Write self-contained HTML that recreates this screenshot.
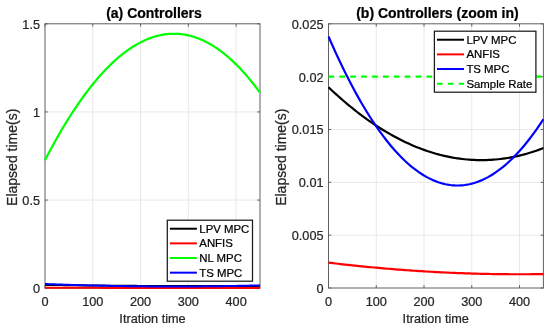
<!DOCTYPE html>
<html><head><meta charset="utf-8"><title>Controllers elapsed time</title>
<style>html,body{margin:0;padding:0;background:#fff}svg{display:block}text{font-family:"Liberation Sans", sans-serif;stroke-width:0.24px;paint-order:stroke}</style>
</head><body>
<svg width="550" height="331" viewBox="0 0 550 331">
<rect width="550" height="331" fill="#fff"/>
<rect x="45" y="23.8" width="215" height="264.4" fill="#fff"/>
<line x1="92.78" y1="23.8" x2="92.78" y2="288.2" stroke="#e8e8e8" stroke-width="1"/>
<line x1="140.56" y1="23.8" x2="140.56" y2="288.2" stroke="#e8e8e8" stroke-width="1"/>
<line x1="188.33" y1="23.8" x2="188.33" y2="288.2" stroke="#e8e8e8" stroke-width="1"/>
<line x1="236.11" y1="23.8" x2="236.11" y2="288.2" stroke="#e8e8e8" stroke-width="1"/>
<line x1="45" y1="200.07" x2="260" y2="200.07" stroke="#e8e8e8" stroke-width="1"/>
<line x1="45" y1="111.93" x2="260" y2="111.93" stroke="#e8e8e8" stroke-width="1"/>
<rect x="45" y="23.8" width="215" height="264.4" fill="none" stroke="#606060" stroke-width="1"/>
<path d="M45.00 288.2v-2.8M45.00 23.8v2.8" stroke="#606060" stroke-width="1" fill="none"/>
<path d="M92.78 288.2v-2.8M92.78 23.8v2.8" stroke="#606060" stroke-width="1" fill="none"/>
<path d="M140.56 288.2v-2.8M140.56 23.8v2.8" stroke="#606060" stroke-width="1" fill="none"/>
<path d="M188.33 288.2v-2.8M188.33 23.8v2.8" stroke="#606060" stroke-width="1" fill="none"/>
<path d="M236.11 288.2v-2.8M236.11 23.8v2.8" stroke="#606060" stroke-width="1" fill="none"/>
<path d="M45 288.20h2.8M260 288.20h-2.8" stroke="#606060" stroke-width="1" fill="none"/>
<path d="M45 200.07h2.8M260 200.07h-2.8" stroke="#606060" stroke-width="1" fill="none"/>
<path d="M45 111.93h2.8M260 111.93h-2.8" stroke="#606060" stroke-width="1" fill="none"/>
<path d="M45 23.80h2.8M260 23.80h-2.8" stroke="#606060" stroke-width="1" fill="none"/>
<clipPath id="c45"><rect x="44" y="22.8" width="217" height="266.4"/></clipPath>
<g clip-path="url(#c45)" fill="none" stroke-width="2.2" stroke-linejoin="round">
<polyline points="45.00,284.85 47.39,284.89 49.78,284.93 52.17,284.96 54.56,285.00 56.94,285.03 59.33,285.07 61.72,285.10 64.11,285.14 66.50,285.17 68.89,285.20 71.28,285.23 73.67,285.26 76.06,285.29 78.44,285.32 80.83,285.35 83.22,285.38 85.61,285.41 88.00,285.44 90.39,285.47 92.78,285.49 95.17,285.52 97.56,285.54 99.94,285.57 102.33,285.59 104.72,285.62 107.11,285.64 109.50,285.66 111.89,285.68 114.28,285.70 116.67,285.72 119.06,285.74 121.44,285.76 123.83,285.78 126.22,285.80 128.61,285.82 131.00,285.83 133.39,285.85 135.78,285.87 138.17,285.88 140.56,285.90 142.94,285.91 145.33,285.92 147.72,285.94 150.11,285.95 152.50,285.96 154.89,285.97 157.28,285.98 159.67,285.99 162.06,286.00 164.44,286.01 166.83,286.02 169.22,286.02 171.61,286.03 174.00,286.04 176.39,286.04 178.78,286.05 181.17,286.05 183.56,286.06 185.94,286.06 188.33,286.06 190.72,286.06 193.11,286.07 195.50,286.07 197.89,286.07 200.28,286.07 202.67,286.07 205.06,286.06 207.44,286.06 209.83,286.06 212.22,286.06 214.61,286.05 217.00,286.05 219.39,286.04 221.78,286.04 224.17,286.03 226.56,286.02 228.94,286.02 231.33,286.01 233.72,286.00 236.11,285.99 238.50,285.98 240.89,285.97 243.28,285.96 245.67,285.95 248.06,285.94 250.44,285.92 252.83,285.91 255.22,285.90 257.61,285.88 260.00,285.87" stroke="#000" stroke-width="2"/>
<polyline points="45.00,287.78 47.39,287.78 49.78,287.79 52.17,287.79 54.56,287.80 56.94,287.80 59.33,287.80 61.72,287.81 64.11,287.81 66.50,287.82 68.89,287.82 71.28,287.83 73.67,287.83 76.06,287.83 78.44,287.84 80.83,287.84 83.22,287.85 85.61,287.85 88.00,287.85 90.39,287.86 92.78,287.86 95.17,287.87 97.56,287.87 99.94,287.87 102.33,287.88 104.72,287.88 107.11,287.88 109.50,287.89 111.89,287.89 114.28,287.89 116.67,287.90 119.06,287.90 121.44,287.90 123.83,287.90 126.22,287.91 128.61,287.91 131.00,287.91 133.39,287.91 135.78,287.92 138.17,287.92 140.56,287.92 142.94,287.92 145.33,287.93 147.72,287.93 150.11,287.93 152.50,287.93 154.89,287.94 157.28,287.94 159.67,287.94 162.06,287.94 164.44,287.94 166.83,287.95 169.22,287.95 171.61,287.95 174.00,287.95 176.39,287.95 178.78,287.95 181.17,287.95 183.56,287.96 185.94,287.96 188.33,287.96 190.72,287.96 193.11,287.96 195.50,287.96 197.89,287.96 200.28,287.96 202.67,287.96 205.06,287.97 207.44,287.97 209.83,287.97 212.22,287.97 214.61,287.97 217.00,287.97 219.39,287.97 221.78,287.97 224.17,287.97 226.56,287.97 228.94,287.97 231.33,287.97 233.72,287.97 236.11,287.97 238.50,287.97 240.89,287.97 243.28,287.97 245.67,287.97 248.06,287.97 250.44,287.97 252.83,287.97 255.22,287.97 257.61,287.97 260.00,287.97" stroke="#f00" stroke-width="2"/>
<polyline points="45.00,160.16 47.39,155.58 49.78,151.07 52.17,146.65 54.56,142.31 56.94,138.06 59.33,133.89 61.72,129.80 64.11,125.79 66.50,121.87 68.89,118.03 71.28,114.28 73.67,110.61 76.06,107.02 78.44,103.52 80.83,100.10 83.22,96.76 85.61,93.51 88.00,90.35 90.39,87.27 92.78,84.27 95.17,81.36 97.56,78.53 99.94,75.79 102.33,73.14 104.72,70.57 107.11,68.08 109.50,65.69 111.89,63.37 114.28,61.15 116.67,59.01 119.06,56.95 121.44,54.98 123.83,53.10 126.22,51.31 128.61,49.60 131.00,47.98 133.39,46.44 135.78,44.99 138.17,43.63 140.56,42.36 142.94,41.17 145.33,40.07 147.72,39.06 150.11,38.14 152.50,37.30 154.89,36.56 157.28,35.90 159.67,35.33 162.06,34.85 164.44,34.45 166.83,34.15 169.22,33.93 171.61,33.80 174.00,33.76 176.39,33.81 178.78,33.95 181.17,34.18 183.56,34.50 185.94,34.91 188.33,35.41 190.72,36.00 193.11,36.67 195.50,37.44 197.89,38.30 200.28,39.25 202.67,40.29 205.06,41.42 207.44,42.64 209.83,43.95 212.22,45.35 214.61,46.84 217.00,48.43 219.39,50.10 221.78,51.87 224.17,53.73 226.56,55.68 228.94,57.72 231.33,59.85 233.72,62.08 236.11,64.40 238.50,66.81 240.89,69.31 243.28,71.91 245.67,74.60 248.06,77.38 250.44,80.25 252.83,83.22 255.22,86.28 257.61,89.43 260.00,92.68" stroke="#0f0"/>
<polyline points="45.00,284.00 47.39,284.10 49.78,284.19 52.17,284.27 54.56,284.36 56.94,284.44 59.33,284.53 61.72,284.61 64.11,284.69 66.50,284.76 68.89,284.84 71.28,284.91 73.67,284.99 76.06,285.06 78.44,285.13 80.83,285.19 83.22,285.26 85.61,285.32 88.00,285.39 90.39,285.45 92.78,285.50 95.17,285.56 97.56,285.62 99.94,285.67 102.33,285.72 104.72,285.77 107.11,285.82 109.50,285.87 111.89,285.91 114.28,285.96 116.67,286.00 119.06,286.04 121.44,286.08 123.83,286.11 126.22,286.15 128.61,286.18 131.00,286.21 133.39,286.24 135.78,286.27 138.17,286.30 140.56,286.32 142.94,286.35 145.33,286.37 147.72,286.39 150.11,286.40 152.50,286.42 154.89,286.44 157.28,286.45 159.67,286.46 162.06,286.47 164.44,286.48 166.83,286.48 169.22,286.49 171.61,286.49 174.00,286.49 176.39,286.49 178.78,286.49 181.17,286.48 183.56,286.48 185.94,286.47 188.33,286.46 190.72,286.45 193.11,286.44 195.50,286.42 197.89,286.40 200.28,286.39 202.67,286.37 205.06,286.35 207.44,286.32 209.83,286.30 212.22,286.27 214.61,286.24 217.00,286.21 219.39,286.18 221.78,286.15 224.17,286.11 226.56,286.08 228.94,286.04 231.33,286.00 233.72,285.96 236.11,285.91 238.50,285.87 240.89,285.82 243.28,285.77 245.67,285.72 248.06,285.67 250.44,285.62 252.83,285.56 255.22,285.50 257.61,285.45 260.00,285.39" stroke="#00f" stroke-width="2"/>
</g>
<text x="45.00" y="306.1" font-size="12.7" text-anchor="middle" fill="#262626" stroke="#262626">0</text>
<text x="92.78" y="306.1" font-size="12.7" text-anchor="middle" fill="#262626" stroke="#262626">100</text>
<text x="140.56" y="306.1" font-size="12.7" text-anchor="middle" fill="#262626" stroke="#262626">200</text>
<text x="188.33" y="306.1" font-size="12.7" text-anchor="middle" fill="#262626" stroke="#262626">300</text>
<text x="236.11" y="306.1" font-size="12.7" text-anchor="middle" fill="#262626" stroke="#262626">400</text>
<text x="40.0" y="293.20" font-size="12.7" text-anchor="end" fill="#262626" stroke="#262626">0</text>
<text x="40.0" y="205.02" font-size="12.7" text-anchor="end" fill="#262626" stroke="#262626">0.5</text>
<text x="40.0" y="116.83" font-size="12.7" text-anchor="end" fill="#262626" stroke="#262626">1</text>
<text x="40.0" y="28.65" font-size="12.7" text-anchor="end" fill="#262626" stroke="#262626">1.5</text>
<text x="152.50" y="322.7" font-size="12.7" text-anchor="middle" fill="#262626" stroke="#262626">Itration time</text>
<text transform="translate(16.60,157.30) rotate(-90)" font-size="14" text-anchor="middle" fill="#262626" stroke="#262626">Elapsed time(s)</text>
<text x="154.00" y="17.9" font-size="14" font-weight="bold" text-anchor="middle" fill="#000" stroke="#000" stroke-width="0.12">(a) Controllers</text>
<rect x="167.3" y="220.2" width="85.19999999999999" height="61.0" fill="#fff" stroke="#1c1c1c" stroke-width="1.25"/>
<line x1="169.9" y1="228.72" x2="196.9" y2="228.72" stroke="#000" stroke-width="2"/>
<text x="199.3" y="232.82" font-size="11.4" fill="#000" stroke="#000">LPV MPC</text>
<line x1="169.9" y1="243.37" x2="196.9" y2="243.37" stroke="#f00" stroke-width="2"/>
<text x="199.3" y="247.47" font-size="11.4" fill="#000" stroke="#000">ANFIS</text>
<line x1="169.9" y1="258.02" x2="196.9" y2="258.02" stroke="#0f0" stroke-width="2"/>
<text x="199.3" y="262.12" font-size="11.4" fill="#000" stroke="#000">NL MPC</text>
<line x1="169.9" y1="272.67" x2="196.9" y2="272.67" stroke="#00f" stroke-width="2"/>
<text x="199.3" y="276.77" font-size="11.4" fill="#000" stroke="#000">TS MPC</text>
<rect x="328.5" y="23.8" width="214.89999999999998" height="264.2" fill="#fff"/>
<line x1="376.26" y1="23.8" x2="376.26" y2="288" stroke="#e8e8e8" stroke-width="1"/>
<line x1="424.01" y1="23.8" x2="424.01" y2="288" stroke="#e8e8e8" stroke-width="1"/>
<line x1="471.77" y1="23.8" x2="471.77" y2="288" stroke="#e8e8e8" stroke-width="1"/>
<line x1="519.52" y1="23.8" x2="519.52" y2="288" stroke="#e8e8e8" stroke-width="1"/>
<line x1="328.5" y1="235.16" x2="543.4" y2="235.16" stroke="#e8e8e8" stroke-width="1"/>
<line x1="328.5" y1="182.32" x2="543.4" y2="182.32" stroke="#e8e8e8" stroke-width="1"/>
<line x1="328.5" y1="129.48" x2="543.4" y2="129.48" stroke="#e8e8e8" stroke-width="1"/>
<line x1="328.5" y1="76.64" x2="543.4" y2="76.64" stroke="#e8e8e8" stroke-width="1"/>
<rect x="328.5" y="23.8" width="214.89999999999998" height="264.2" fill="none" stroke="#606060" stroke-width="1"/>
<path d="M328.50 288v-2.8M328.50 23.8v2.8" stroke="#606060" stroke-width="1" fill="none"/>
<path d="M376.26 288v-2.8M376.26 23.8v2.8" stroke="#606060" stroke-width="1" fill="none"/>
<path d="M424.01 288v-2.8M424.01 23.8v2.8" stroke="#606060" stroke-width="1" fill="none"/>
<path d="M471.77 288v-2.8M471.77 23.8v2.8" stroke="#606060" stroke-width="1" fill="none"/>
<path d="M519.52 288v-2.8M519.52 23.8v2.8" stroke="#606060" stroke-width="1" fill="none"/>
<path d="M328.5 288.00h2.8M543.4 288.00h-2.8" stroke="#606060" stroke-width="1" fill="none"/>
<path d="M328.5 235.16h2.8M543.4 235.16h-2.8" stroke="#606060" stroke-width="1" fill="none"/>
<path d="M328.5 182.32h2.8M543.4 182.32h-2.8" stroke="#606060" stroke-width="1" fill="none"/>
<path d="M328.5 129.48h2.8M543.4 129.48h-2.8" stroke="#606060" stroke-width="1" fill="none"/>
<path d="M328.5 76.64h2.8M543.4 76.64h-2.8" stroke="#606060" stroke-width="1" fill="none"/>
<path d="M328.5 23.80h2.8M543.4 23.80h-2.8" stroke="#606060" stroke-width="1" fill="none"/>
<clipPath id="c328"><rect x="327.5" y="22.8" width="216.89999999999998" height="266.2"/></clipPath>
<g clip-path="url(#c328)" fill="none" stroke-width="2.2" stroke-linejoin="round">
<polyline points="328.50,87.21 330.89,89.47 333.28,91.69 335.66,93.88 338.05,96.04 340.44,98.16 342.83,100.24 345.21,102.29 347.60,104.30 349.99,106.27 352.38,108.21 354.77,110.12 357.15,111.99 359.54,113.82 361.93,115.62 364.32,117.38 366.70,119.11 369.09,120.80 371.48,122.46 373.87,124.08 376.26,125.66 378.64,127.21 381.03,128.72 383.42,130.20 385.81,131.64 388.19,133.05 390.58,134.42 392.97,135.76 395.36,137.06 397.75,138.32 400.13,139.55 402.52,140.74 404.91,141.90 407.30,143.02 409.68,144.10 412.07,145.16 414.46,146.17 416.85,147.15 419.24,148.09 421.62,149.00 424.01,149.87 426.40,150.71 428.79,151.51 431.17,152.28 433.56,153.01 435.95,153.70 438.34,154.36 440.73,154.98 443.11,155.57 445.50,156.12 447.89,156.64 450.28,157.12 452.66,157.56 455.05,157.97 457.44,158.35 459.83,158.69 462.22,158.99 464.60,159.25 466.99,159.49 469.38,159.68 471.77,159.84 474.15,159.97 476.54,160.06 478.93,160.11 481.32,160.13 483.71,160.11 486.09,160.06 488.48,159.97 490.87,159.84 493.26,159.68 495.64,159.49 498.03,159.25 500.42,158.99 502.81,158.69 505.20,158.35 507.58,157.97 509.97,157.56 512.36,157.12 514.75,156.64 517.13,156.12 519.52,155.57 521.91,154.98 524.30,154.36 526.69,153.70 529.07,153.01 531.46,152.28 533.85,151.51 536.24,150.71 538.62,149.87 541.01,149.00 543.40,148.09" stroke="#000"/>
<polyline points="328.50,262.64 330.89,262.93 333.28,263.21 335.66,263.49 338.05,263.77 340.44,264.04 342.83,264.32 345.21,264.58 347.60,264.85 349.99,265.11 352.38,265.36 354.77,265.61 357.15,265.86 359.54,266.11 361.93,266.35 364.32,266.59 366.70,266.82 369.09,267.05 371.48,267.28 373.87,267.50 376.26,267.72 378.64,267.94 381.03,268.15 383.42,268.36 385.81,268.57 388.19,268.77 390.58,268.97 392.97,269.16 395.36,269.35 397.75,269.54 400.13,269.72 402.52,269.90 404.91,270.08 407.30,270.25 409.68,270.42 412.07,270.58 414.46,270.75 416.85,270.90 419.24,271.06 421.62,271.21 424.01,271.36 426.40,271.50 428.79,271.64 431.17,271.77 433.56,271.91 435.95,272.04 438.34,272.16 440.73,272.28 443.11,272.40 445.50,272.52 447.89,272.63 450.28,272.73 452.66,272.84 455.05,272.94 457.44,273.03 459.83,273.13 462.22,273.22 464.60,273.30 466.99,273.38 469.38,273.46 471.77,273.54 474.15,273.61 476.54,273.67 478.93,273.74 481.32,273.80 483.71,273.85 486.09,273.91 488.48,273.95 490.87,274.00 493.26,274.04 495.64,274.08 498.03,274.11 500.42,274.15 502.81,274.17 505.20,274.20 507.58,274.22 509.97,274.23 512.36,274.25 514.75,274.25 517.13,274.26 519.52,274.26 521.91,274.26 524.30,274.25 526.69,274.25 529.07,274.23 531.46,274.22 533.85,274.20 536.24,274.17 538.62,274.15 541.01,274.11 543.40,274.08" stroke="#f00"/>
<polyline points="328.50,36.48 330.89,41.95 333.28,47.31 335.66,52.58 338.05,57.74 340.44,62.80 342.83,67.76 345.21,72.61 347.60,77.36 349.99,82.01 352.38,86.56 354.77,91.01 357.15,95.35 359.54,99.59 361.93,103.73 364.32,107.77 366.70,111.70 369.09,115.53 371.48,119.26 373.87,122.89 376.26,126.42 378.64,129.84 381.03,133.16 383.42,136.38 385.81,139.50 388.19,142.51 390.58,145.43 392.97,148.24 395.36,150.95 397.75,153.55 400.13,156.06 402.52,158.46 404.91,160.76 407.30,162.96 409.68,165.05 412.07,167.04 414.46,168.93 416.85,170.72 419.24,172.41 421.62,173.99 424.01,175.47 426.40,176.85 428.79,178.13 431.17,179.31 433.56,180.38 435.95,181.35 438.34,182.22 440.73,182.99 443.11,183.65 445.50,184.21 447.89,184.67 450.28,185.03 452.66,185.29 455.05,185.44 457.44,185.49 459.83,185.44 462.22,185.29 464.60,185.03 466.99,184.67 469.38,184.21 471.77,183.65 474.15,182.99 476.54,182.22 478.93,181.35 481.32,180.38 483.71,179.31 486.09,178.13 488.48,176.85 490.87,175.47 493.26,173.99 495.64,172.41 498.03,170.72 500.42,168.93 502.81,167.04 505.20,165.05 507.58,162.96 509.97,160.76 512.36,158.46 514.75,156.06 517.13,153.55 519.52,150.95 521.91,148.24 524.30,145.43 526.69,142.51 529.07,139.50 531.46,136.38 533.85,133.16 536.24,129.84 538.62,126.42 541.01,122.89 543.40,119.26" stroke="#00f"/>
<polyline points="328.50,76.64 330.89,76.64 333.28,76.64 335.66,76.64 338.05,76.64 340.44,76.64 342.83,76.64 345.21,76.64 347.60,76.64 349.99,76.64 352.38,76.64 354.77,76.64 357.15,76.64 359.54,76.64 361.93,76.64 364.32,76.64 366.70,76.64 369.09,76.64 371.48,76.64 373.87,76.64 376.26,76.64 378.64,76.64 381.03,76.64 383.42,76.64 385.81,76.64 388.19,76.64 390.58,76.64 392.97,76.64 395.36,76.64 397.75,76.64 400.13,76.64 402.52,76.64 404.91,76.64 407.30,76.64 409.68,76.64 412.07,76.64 414.46,76.64 416.85,76.64 419.24,76.64 421.62,76.64 424.01,76.64 426.40,76.64 428.79,76.64 431.17,76.64 433.56,76.64 435.95,76.64 438.34,76.64 440.73,76.64 443.11,76.64 445.50,76.64 447.89,76.64 450.28,76.64 452.66,76.64 455.05,76.64 457.44,76.64 459.83,76.64 462.22,76.64 464.60,76.64 466.99,76.64 469.38,76.64 471.77,76.64 474.15,76.64 476.54,76.64 478.93,76.64 481.32,76.64 483.71,76.64 486.09,76.64 488.48,76.64 490.87,76.64 493.26,76.64 495.64,76.64 498.03,76.64 500.42,76.64 502.81,76.64 505.20,76.64 507.58,76.64 509.97,76.64 512.36,76.64 514.75,76.64 517.13,76.64 519.52,76.64 521.91,76.64 524.30,76.64 526.69,76.64 529.07,76.64 531.46,76.64 533.85,76.64 536.24,76.64 538.62,76.64 541.01,76.64 543.40,76.64" stroke="#0f0" stroke-dasharray="5.6 5.3"/>
</g>
<text x="328.50" y="306.1" font-size="12.7" text-anchor="middle" fill="#262626" stroke="#262626">0</text>
<text x="376.26" y="306.1" font-size="12.7" text-anchor="middle" fill="#262626" stroke="#262626">100</text>
<text x="424.01" y="306.1" font-size="12.7" text-anchor="middle" fill="#262626" stroke="#262626">200</text>
<text x="471.77" y="306.1" font-size="12.7" text-anchor="middle" fill="#262626" stroke="#262626">300</text>
<text x="519.52" y="306.1" font-size="12.7" text-anchor="middle" fill="#262626" stroke="#262626">400</text>
<text x="323.5" y="293.20" font-size="12.7" text-anchor="end" fill="#262626" stroke="#262626">0</text>
<text x="323.5" y="240.29" font-size="12.7" text-anchor="end" fill="#262626" stroke="#262626">0.005</text>
<text x="323.5" y="187.38" font-size="12.7" text-anchor="end" fill="#262626" stroke="#262626">0.01</text>
<text x="323.5" y="134.47" font-size="12.7" text-anchor="end" fill="#262626" stroke="#262626">0.015</text>
<text x="323.5" y="81.56" font-size="12.7" text-anchor="end" fill="#262626" stroke="#262626">0.02</text>
<text x="323.5" y="28.65" font-size="12.7" text-anchor="end" fill="#262626" stroke="#262626">0.025</text>
<text x="435.75" y="322.7" font-size="12.7" text-anchor="middle" fill="#262626" stroke="#262626">Itration time</text>
<text transform="translate(285.70,157.20) rotate(-90)" font-size="14" text-anchor="middle" fill="#262626" stroke="#262626">Elapsed time(s)</text>
<text x="437.45" y="17.9" font-size="14" font-weight="bold" text-anchor="middle" fill="#000" stroke="#000" stroke-width="0.12">(b) Controllers (zoom in)</text>
<rect x="434.4" y="31.2" width="101.5" height="61.0" fill="#fff" stroke="#1c1c1c" stroke-width="1.25"/>
<line x1="437.0" y1="39.73" x2="464.0" y2="39.73" stroke="#000" stroke-width="2"/>
<text x="466.4" y="43.83" font-size="11.4" fill="#000" stroke="#000">LPV MPC</text>
<line x1="437.0" y1="54.38" x2="464.0" y2="54.38" stroke="#f00" stroke-width="2"/>
<text x="466.4" y="58.48" font-size="11.4" fill="#000" stroke="#000">ANFIS</text>
<line x1="437.0" y1="69.03" x2="464.0" y2="69.03" stroke="#00f" stroke-width="2"/>
<text x="466.4" y="73.12" font-size="11.4" fill="#000" stroke="#000">TS MPC</text>
<line x1="437.0" y1="83.67" x2="464.0" y2="83.67" stroke="#0f0" stroke-width="2" stroke-dasharray="5.6 5.3"/>
<text x="466.4" y="87.77" font-size="11.4" fill="#000" stroke="#000">Sample Rate</text>
</svg>
</body></html>
